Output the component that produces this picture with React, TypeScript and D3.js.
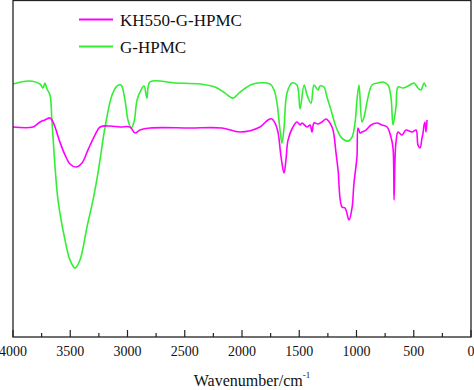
import * as d3 from "d3";
import { useEffect, useRef } from "react";

// wavenumber (cm-1) and transmittance (%)
const gWave = [4000, 3860, 3764, 3738, 3721, 3703, 3677, 3659, 3607, 3546, 3502, 3458, 3415, 3354, 3301, 3258, 3240, 3196, 3135, 3092, 3057, 3022, 2996, 2969, 2943, 2917, 2882, 2856, 2830, 2803, 2585, 2367, 2236, 2148, 2079, 2017, 1904, 1755, 1720, 1694, 1668, 1651, 1633, 1607, 1563, 1520, 1493, 1458, 1432, 1397, 1371, 1336, 1319, 1284, 1258, 1223, 1179, 1135, 1074, 1039, 1013, 996, 978, 952, 934, 899, 864, 812, 768, 725, 699, 681, 655, 637, 594, 533, 498, 463, 437, 410, 393];
const gTrans = [75.3, 76.2, 75.3, 74.1, 75.6, 73.8, 72.0, 63.7, 40.8, 28.9, 22.9, 20.5, 22.9, 32.7, 40.8, 48.8, 52.7, 62.5, 72.0, 74.7, 75.0, 70.5, 64.6, 62.2, 64.0, 70.5, 73.5, 74.7, 71.1, 75.9, 75.6, 75.3, 74.4, 72.6, 71.1, 72.9, 75.3, 75.3, 73.5, 69.6, 61.6, 57.7, 62.2, 72.6, 75.6, 75.0, 67.9, 75.0, 72.0, 69.6, 75.0, 73.5, 74.7, 74.4, 71.4, 67.6, 62.5, 59.5, 58.3, 59.5, 63.7, 70.5, 75.0, 64.0, 65.5, 71.4, 75.0, 75.6, 75.9, 75.0, 71.4, 63.1, 68.5, 74.4, 74.1, 75.0, 75.6, 74.1, 73.5, 75.6, 74.4];

const kWave = [4000, 3825, 3764, 3721, 3677, 3659, 3633, 3590, 3546, 3502, 3450, 3397, 3345, 3284, 3240, 3153, 3065, 2978, 2934, 2891, 2803, 2454, 2175, 2017, 1843, 1773, 1738, 1712, 1686, 1659, 1633, 1616, 1598, 1555, 1520, 1493, 1476, 1432, 1406, 1389, 1371, 1336, 1301, 1266, 1232, 1205, 1179, 1161, 1127, 1100, 1065, 1039, 1022, 996, 987, 969, 952, 917, 873, 821, 777, 733, 699, 681, 672, 664, 655, 637, 602, 568, 515, 480, 463, 445, 428, 419, 410, 402, 393, 384];
const kTrans = [62.5, 62.5, 64.0, 64.6, 65.2, 64.6, 62.5, 58.0, 54.2, 51.5, 50.6, 51.8, 55.7, 60.1, 62.5, 62.8, 62.5, 62.5, 60.7, 61.6, 62.2, 62.2, 62.2, 61.0, 62.5, 64.6, 64.9, 63.7, 61.0, 53.6, 48.8, 52.7, 58.6, 62.5, 64.0, 63.1, 63.7, 62.5, 63.1, 61.0, 63.7, 63.4, 64.0, 64.9, 63.7, 61.6, 54.8, 49.7, 38.7, 38.4, 34.8, 38.4, 45.8, 53.6, 62.2, 60.7, 61.0, 61.6, 63.1, 63.7, 63.1, 62.5, 59.5, 56.3, 40.8, 52.7, 58.0, 61.0, 60.1, 61.6, 61.0, 61.6, 57.1, 56.3, 59.2, 60.7, 63.1, 64.0, 61.0, 64.6];

const seriesNames = ["KH550-G-HPMC", "G-HPMC"];
const seriesColors = ["#ff00ff", "#33ee33"];
const xTicks = [4000, 3500, 3000, 2500, 2000, 1500, 1000, 500, 0];

const FONT = '"Liberation Serif", "DejaVu Serif", "Times New Roman", Times, serif';

export default function App() {
  const svgRef = useRef<SVGSVGElement>(null);

  useEffect(() => {
    if (!svgRef.current) return;
    const svg = d3.select(svgRef.current);
    svg.selectAll("*").remove();

    const W = 474;
    const H = 390;
    const left = 13;
    const right = 471;
    const top = 1;
    const bottom = 337;

    const x = d3.scaleLinear().domain([4000, 0]).range([left, right]);
    const y = d3.scaleLinear().domain([0, 100]).range([bottom, top]);

    svg.append("rect").attr("width", W).attr("height", H).attr("fill", "#fff");

    const line = d3
      .line<[number, number]>()
      .x((d) => x(d[0]))
      .y((d) => y(d[1]))
      .curve(d3.curveCatmullRom.alpha(0.5));

    const series = [
      d3.zip(kWave, kTrans) as [number, number][],
      d3.zip(gWave, gTrans) as [number, number][],
    ];

    // green drawn first, magenta over it
    [1, 0].forEach((i) => {
      svg
        .append("path")
        .attr("d", line(series[i]))
        .attr("fill", "none")
        .attr("stroke", seriesColors[i])
        .attr("stroke-width", 1.6)
        .attr("stroke-linejoin", "round");
    });

    // frame
    svg
      .append("rect")
      .attr("x", left)
      .attr("y", top - 0.5)
      .attr("width", right - left)
      .attr("height", bottom - top + 0.5)
      .attr("fill", "none")
      .attr("stroke", "#222")
      .attr("stroke-width", 1.3);

    // ticks pointing inward
    const minor = d3.range(3750, 0, -500);
    svg
      .selectAll(".major")
      .data(xTicks)
      .enter()
      .append("line")
      .attr("x1", (d) => x(d))
      .attr("x2", (d) => x(d))
      .attr("y1", bottom)
      .attr("y2", bottom - 7)
      .attr("stroke", "#222")
      .attr("stroke-width", 1.2);
    svg
      .selectAll(".minor")
      .data(minor)
      .enter()
      .append("line")
      .attr("x1", (d) => x(d))
      .attr("x2", (d) => x(d))
      .attr("y1", bottom)
      .attr("y2", bottom - 4)
      .attr("stroke", "#222")
      .attr("stroke-width", 1.2);

    const g = svg.append("g").style("font-family", FONT).attr("fill", "#111");

    g.selectAll(".tick-label")
      .data(xTicks)
      .enter()
      .append("text")
      .attr("x", (d) => x(d))
      .attr("y", 356)
      .attr("text-anchor", "middle")
      .attr("font-size", 14)
      .text((d) => d);

    const title = g
      .append("text")
      .attr("x", 252)
      .attr("y", 386)
      .attr("text-anchor", "middle")
      .attr("font-size", 16);
    title.append("tspan").text("Wavenumber/cm");
    title.append("tspan").attr("dy", -8).attr("font-size", 9).text("-1");

    // legend
    seriesNames.forEach((name, i) => {
      const ly = 19.5 + i * 27;
      svg
        .append("line")
        .attr("x1", 79)
        .attr("x2", 113)
        .attr("y1", ly)
        .attr("y2", ly)
        .attr("stroke", seriesColors[i])
        .attr("stroke-width", 1.8);
      g.append("text")
        .attr("x", 120)
        .attr("y", ly + 6.3)
        .attr("font-size", 17)
        .text(name);
    });
  }, []);

  return (
    <svg
      ref={svgRef}
      width={474}
      height={390}
      style={{ position: "absolute", left: 0, top: 0 }}
    />
  );
}
